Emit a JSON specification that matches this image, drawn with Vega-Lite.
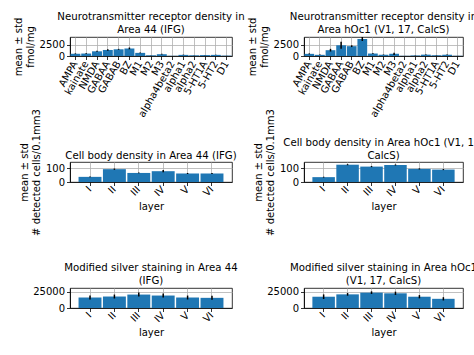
{
  "$schema": "https://vega.github.io/schema/vega-lite/v6.json",
  "padding": {"left": 12, "top": 11, "right": 0, "bottom": 0},
  "bounds": "flush",
  "columns": 2,
  "spacing": {"row": 106, "column": 72},
  "datasets": {
    "rec44": [
      {"label": "AMPA", "mean": 500, "std": 80},
      {"label": "kainate", "mean": 550, "std": 90},
      {"label": "NMDA", "mean": 1050, "std": 100},
      {"label": "GABAA", "mean": 1350, "std": 150},
      {"label": "GABAB", "mean": 1500, "std": 100},
      {"label": "BZ", "mean": 1700, "std": 200},
      {"label": "M1", "mean": 700, "std": 80},
      {"label": "M2", "mean": 150, "std": 30},
      {"label": "M3", "mean": 400, "std": 80},
      {"label": "alpha4beta2", "mean": 40, "std": 10},
      {"label": "alpha1", "mean": 250, "std": 50},
      {"label": "alpha2", "mean": 150, "std": 40},
      {"label": "5-HT1A", "mean": 200, "std": 50},
      {"label": "5-HT2", "mean": 250, "std": 40},
      {"label": "D1", "mean": 80, "std": 20}
    ],
    "recV1": [
      {"label": "AMPA", "mean": 480, "std": 100},
      {"label": "kainate", "mean": 260, "std": 60},
      {"label": "NMDA", "mean": 1300, "std": 300},
      {"label": "GABAA", "mean": 2400, "std": 800},
      {"label": "GABAB", "mean": 2200, "std": 200},
      {"label": "BZ", "mean": 3800, "std": 450},
      {"label": "M1", "mean": 550, "std": 80},
      {"label": "M2", "mean": 280, "std": 50},
      {"label": "M3", "mean": 500, "std": 250},
      {"label": "alpha4beta2", "mean": 40, "std": 10},
      {"label": "alpha1", "mean": 120, "std": 40},
      {"label": "alpha2", "mean": 300, "std": 60},
      {"label": "5-HT1A", "mean": 150, "std": 40},
      {"label": "5-HT2", "mean": 280, "std": 60},
      {"label": "D1", "mean": 50, "std": 15}
    ],
    "cell44": [
      {"label": "I", "mean": 38, "std": 3},
      {"label": "II", "mean": 95, "std": 5},
      {"label": "III", "mean": 67, "std": 3},
      {"label": "IV", "mean": 80, "std": 8},
      {"label": "V", "mean": 63, "std": 4},
      {"label": "VI", "mean": 63, "std": 4}
    ],
    "cellV1": [
      {"label": "I", "mean": 36, "std": 3},
      {"label": "II", "mean": 128, "std": 4},
      {"label": "III", "mean": 114, "std": 4},
      {"label": "IV", "mean": 126, "std": 4},
      {"label": "V", "mean": 97, "std": 4},
      {"label": "VI", "mean": 92, "std": 4}
    ],
    "silver44": [
      {"label": "I", "mean": 16000, "std": 3000},
      {"label": "II", "mean": 17500, "std": 3000},
      {"label": "III", "mean": 20500, "std": 3000},
      {"label": "IV", "mean": 19000, "std": 3000},
      {"label": "V", "mean": 16000, "std": 3000},
      {"label": "VI", "mean": 15500, "std": 3000}
    ],
    "silverV1": [
      {"label": "I", "mean": 17200, "std": 3500},
      {"label": "II", "mean": 20800, "std": 2000},
      {"label": "III", "mean": 23400, "std": 2000},
      {"label": "IV", "mean": 22400, "std": 2500},
      {"label": "V", "mean": 17200, "std": 2500},
      {"label": "VI", "mean": 14000, "std": 2500}
    ]
  },
  "concat": [
    {
      "width": 162, "height": 19,
      "title": {"text": ["Neurotransmitter receptor density in", "Area 44 (IFG)"], "offset": -18},
      "data": {"name": "rec44"},
      "encoding": {
        "x": {"field": "label", "type": "nominal", "sort": null, "title": null,
              "scale": {"paddingInner": 0.08, "paddingOuter": 0.04},
              "axis": {"labelAngle": -60, "labelAlign": "right", "labelBaseline": "middle", "grid": true, "bandPosition": 0.5}},
        "y": {"field": "mean", "type": "quantitative",
              "scale": {"domain": [0, 4250], "nice": false},
              "axis": {"values": [0, 2500], "format": "d", "grid": true, "title": ["mean ± std", "fmol/mg"]}}
      },
      "layer": [
        {"mark": {"type": "bar", "color": "#1f77b4"}},
        {"mark": {"type": "errorbar", "color": "black", "thickness": 1.5}, "encoding": {"yError": {"field": "std"}}}
      ]
    },
    {
      "width": 159, "height": 19,
      "title": {"text": ["Neurotransmitter receptor density in", "Area hOc1 (V1, 17, CalcS)"], "offset": -18},
      "data": {"name": "recV1"},
      "encoding": {
        "x": {"field": "label", "type": "nominal", "sort": null, "title": null,
              "scale": {"paddingInner": 0.08, "paddingOuter": 0.04},
              "axis": {"labelAngle": -60, "labelAlign": "right", "labelBaseline": "middle", "grid": true, "bandPosition": 0.5}},
        "y": {"field": "mean", "type": "quantitative",
              "scale": {"domain": [0, 4250], "nice": false},
              "axis": {"values": [0, 2500], "format": "d", "grid": true, "title": ["mean ± std", "fmol/mg"]}}
      },
      "layer": [
        {"mark": {"type": "bar", "color": "#1f77b4"}},
        {"mark": {"type": "errorbar", "color": "black", "thickness": 1.5}, "encoding": {"yError": {"field": "std"}}}
      ]
    },
    {
      "width": 162, "height": 20,
      "title": {"text": "Cell body density in Area 44 (IFG)", "offset": -53},
      "data": {"name": "cell44"},
      "encoding": {
        "x": {"field": "label", "type": "nominal", "sort": null, "title": "layer",
              "scale": {"paddingInner": 0.06, "paddingOuter": 0.35},
              "axis": {"labelAngle": -45, "labelAlign": "right", "labelBaseline": "middle", "grid": true, "bandPosition": 0.5}},
        "y": {"field": "mean", "type": "quantitative",
              "scale": {"domain": [0, 148], "nice": false},
              "axis": {"values": [0, 100], "format": "d", "grid": true, "title": ["mean ± std", "# detected cells/0.1mm3"]}}
      },
      "layer": [
        {"mark": {"type": "bar", "color": "#1f77b4"}},
        {"mark": {"type": "errorbar", "color": "black", "thickness": 1.5}, "encoding": {"yError": {"field": "std"}}}
      ]
    },
    {
      "width": 159, "height": 20,
      "title": {"text": ["Cell body density in Area hOc1 (V1, 17,", "CalcS)"], "offset": -53},
      "data": {"name": "cellV1"},
      "encoding": {
        "x": {"field": "label", "type": "nominal", "sort": null, "title": "layer",
              "scale": {"paddingInner": 0.06, "paddingOuter": 0.35},
              "axis": {"labelAngle": -45, "labelAlign": "right", "labelBaseline": "middle", "grid": true, "bandPosition": 0.5}},
        "y": {"field": "mean", "type": "quantitative",
              "scale": {"domain": [0, 148], "nice": false},
              "axis": {"values": [0, 100], "format": "d", "grid": true, "title": ["mean ± std", "# detected cells/0.1mm3"]}}
      },
      "layer": [
        {"mark": {"type": "bar", "color": "#1f77b4"}},
        {"mark": {"type": "errorbar", "color": "black", "thickness": 1.5}, "encoding": {"yError": {"field": "std"}}}
      ]
    },
    {
      "width": 162, "height": 20,
      "title": {"text": ["Modified silver staining in Area 44", "(IFG)"], "offset": 0},
      "data": {"name": "silver44"},
      "encoding": {
        "x": {"field": "label", "type": "nominal", "sort": null, "title": "layer",
              "scale": {"paddingInner": 0.06, "paddingOuter": 0.35},
              "axis": {"labelAngle": -45, "labelAlign": "right", "labelBaseline": "middle", "grid": true, "bandPosition": 0.5}},
        "y": {"field": "mean", "type": "quantitative",
              "scale": {"domain": [0, 30500], "nice": false},
              "axis": {"values": [0, 25000], "format": "d", "grid": true, "title": null}}
      },
      "layer": [
        {"mark": {"type": "bar", "color": "#1f77b4"}},
        {"mark": {"type": "errorbar", "color": "black", "thickness": 1.5}, "encoding": {"yError": {"field": "std"}}}
      ]
    },
    {
      "width": 159, "height": 20,
      "title": {"text": ["Modified silver staining in Area hOc1", "(V1, 17, CalcS)"], "offset": 0},
      "data": {"name": "silverV1"},
      "encoding": {
        "x": {"field": "label", "type": "nominal", "sort": null, "title": "layer",
              "scale": {"paddingInner": 0.06, "paddingOuter": 0.35},
              "axis": {"labelAngle": -45, "labelAlign": "right", "labelBaseline": "middle", "grid": true, "bandPosition": 0.5}},
        "y": {"field": "mean", "type": "quantitative",
              "scale": {"domain": [0, 30500], "nice": false},
              "axis": {"values": [0, 25000], "format": "d", "grid": true, "title": null}}
      },
      "layer": [
        {"mark": {"type": "bar", "color": "#1f77b4"}},
        {"mark": {"type": "errorbar", "color": "black", "thickness": 1.5}, "encoding": {"yError": {"field": "std"}}}
      ]
    }
  ],
  "config": {
    "font": "DejaVu Sans",
    "view": {"stroke": "black", "strokeWidth": 0.8},
    "axis": {"domainColor": "black", "domainWidth": 0.8, "tickColor": "black", "tickWidth": 0.8, "tickSize": 3.5,
             "labelColor": "black", "labelFontSize": 10, "labelPadding": 2,
             "titleColor": "black", "titleFontSize": 10, "titleFontWeight": "normal", "titlePadding": 4,
             "gridColor": "#b0b0b0", "gridWidth": 0.8, "zindex": 1},
    "title": {"fontSize": 10.2, "fontWeight": "normal", "color": "black", "offset": 4, "anchor": "middle", "lineHeight": 13}
  }
}
